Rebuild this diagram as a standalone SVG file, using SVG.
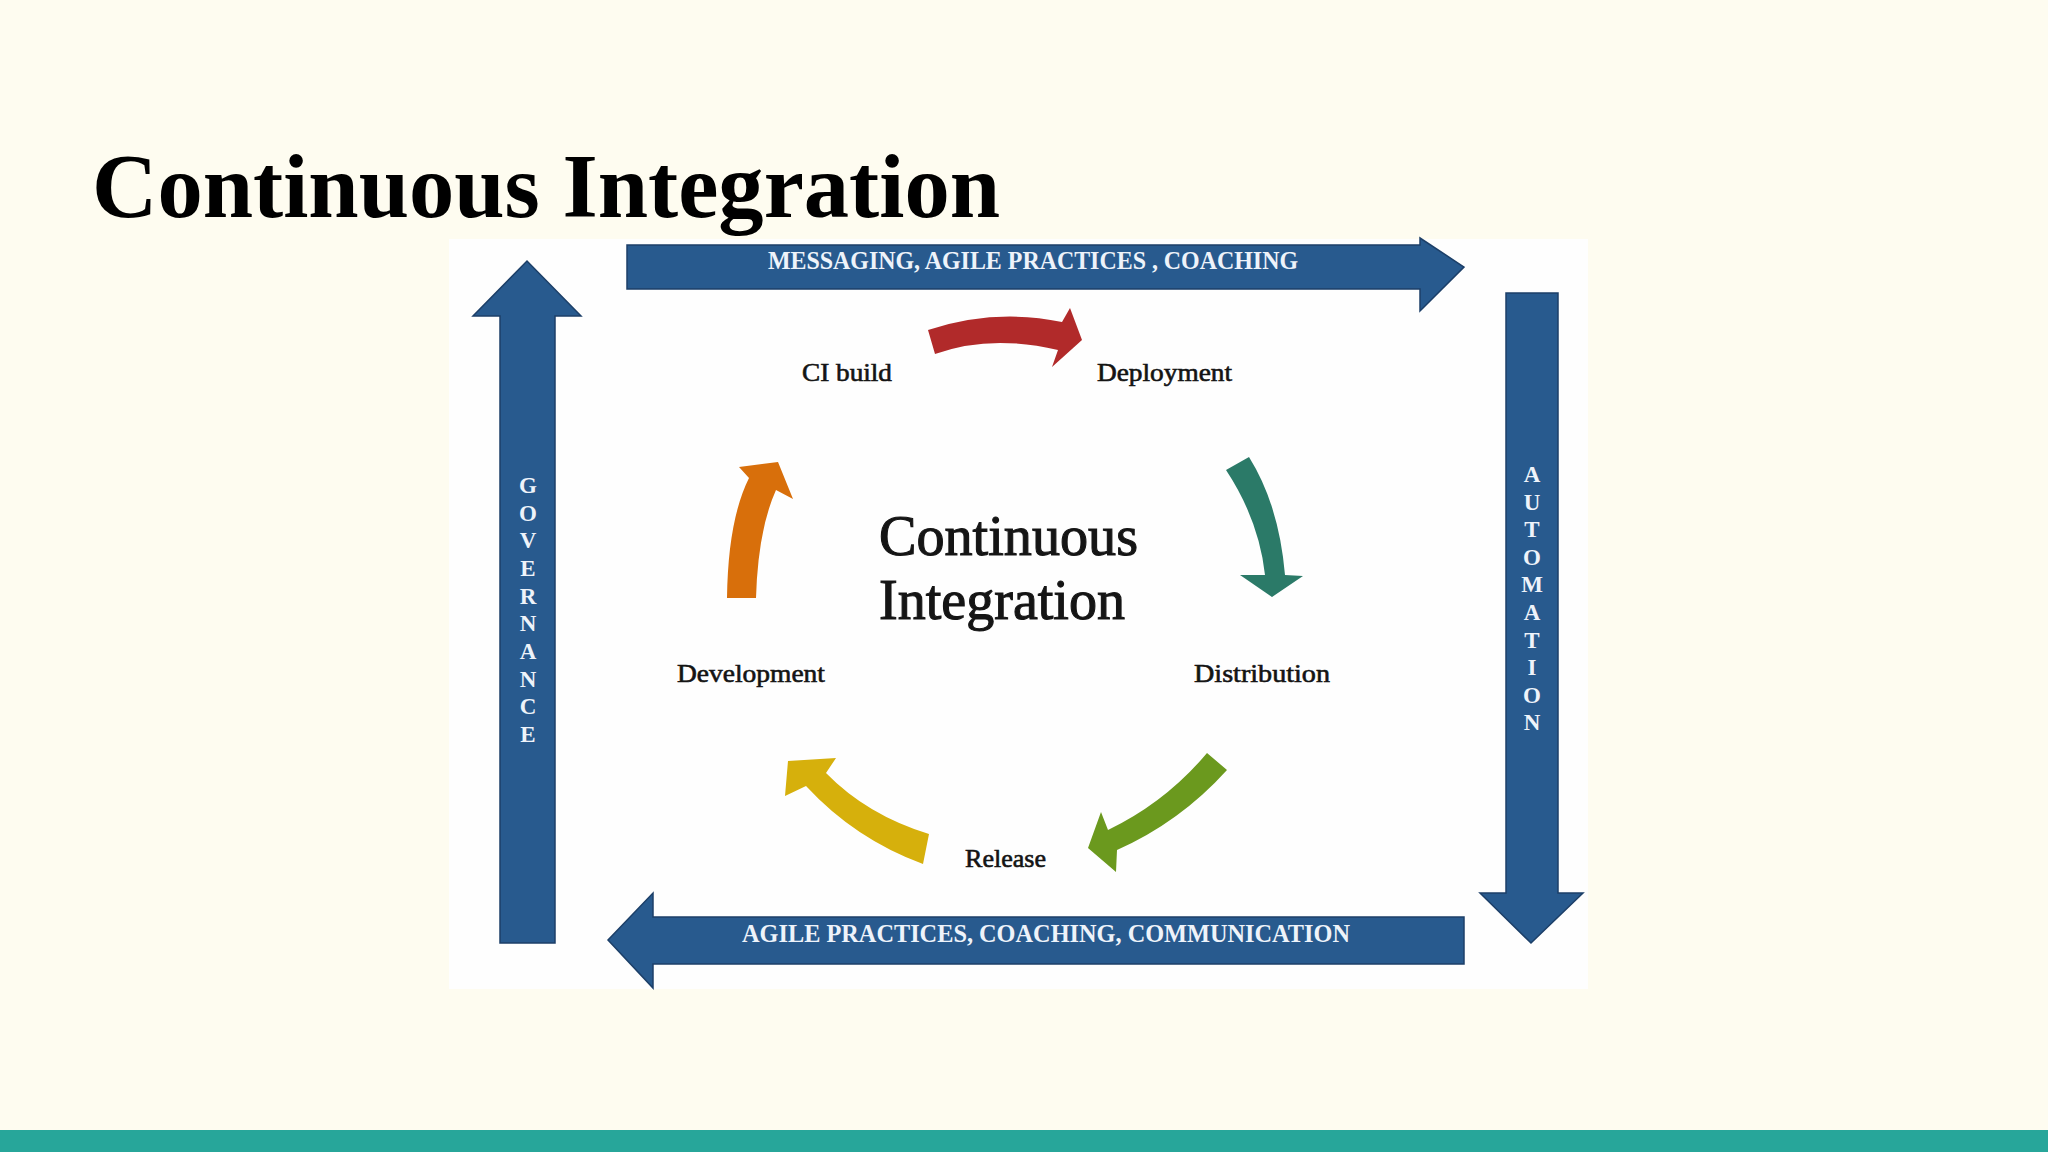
<svg xmlns="http://www.w3.org/2000/svg" width="2048" height="1152" viewBox="0 0 2048 1152">
<style>
.blue{fill:#285a8e;stroke:#1c3f68;stroke-width:1.5}
.bar{font-family:"Liberation Serif",serif;font-weight:bold;font-size:26px;fill:#eef3fa}
.vert{font-family:"Liberation Serif",serif;font-weight:bold;font-size:23px;fill:#eef3fa;text-anchor:middle}
.lbl{font-family:"Liberation Serif",serif;font-size:25px;fill:#141414;stroke:#141414;stroke-width:0.6}
.ctr{font-family:"Liberation Serif",serif;font-size:56px;fill:#151515;stroke:#151515;stroke-width:1.1}
.title{font-family:"Liberation Serif",serif;font-weight:bold;font-size:90px;fill:#000}
</style>
<rect width="2048" height="1152" fill="#fefcf0"/>
<rect x="0" y="1130" width="2048" height="22" fill="#27a69a"/>
<g id="title"><text class="title" x="92" y="217" textLength="908" lengthAdjust="spacingAndGlyphs">Continuous Integration</text></g>
<rect id="canvas" x="449" y="239" width="1139" height="750" fill="#fefefe"/>
<g id="top-arrow">
<path class="blue" d="M627,245 H1420 V238 L1464,267 L1420,311 V289 H627 Z"/>
<text class="bar" x="768" y="269" textLength="530" lengthAdjust="spacingAndGlyphs">MESSAGING, AGILE PRACTICES , COACHING</text>
</g>
<g id="right-arrow">
<path class="blue" d="M1506,293 H1558 V893 H1583 L1531,943 L1480,893 H1506 Z"/>
<text class="vert"><tspan x="1532" y="482">A</tspan><tspan x="1532" y="510">U</tspan><tspan x="1532" y="537">T</tspan><tspan x="1532" y="565">O</tspan><tspan x="1532" y="592">M</tspan><tspan x="1532" y="620">A</tspan><tspan x="1532" y="648">T</tspan><tspan x="1532" y="675">I</tspan><tspan x="1532" y="703">O</tspan><tspan x="1532" y="730">N</tspan></text>
</g>
<g id="bottom-arrow">
<path class="blue" d="M1464,917 V964 H653 V988 L608,940 L653,893 V917 Z"/>
<text class="bar" x="742" y="942" textLength="608" lengthAdjust="spacingAndGlyphs">AGILE PRACTICES, COACHING, COMMUNICATION</text>
</g>
<g id="left-arrow">
<path class="blue" d="M500,943 V316 H473 L527,261 L581,316 H555 V943 Z"/>
<text class="vert"><tspan x="528" y="493">G</tspan><tspan x="528" y="521">O</tspan><tspan x="528" y="548">V</tspan><tspan x="528" y="576">E</tspan><tspan x="528" y="604">R</tspan><tspan x="528" y="631">N</tspan><tspan x="528" y="659">A</tspan><tspan x="528" y="687">N</tspan><tspan x="528" y="714">C</tspan><tspan x="528" y="742">E</tspan></text>
</g>
<g id="center"><text class="ctr" x="879" y="555" textLength="259" lengthAdjust="spacingAndGlyphs">Continuous</text><text class="ctr" x="879" y="619" textLength="246" lengthAdjust="spacingAndGlyphs">Integration</text></g>
<g id="ci-build"><text class="lbl" x="802" y="381" textLength="90" lengthAdjust="spacingAndGlyphs">CI build</text></g>
<g id="deployment"><text class="lbl" x="1097" y="381" textLength="135" lengthAdjust="spacingAndGlyphs">Deployment</text></g>
<g id="distribution"><text class="lbl" x="1194" y="682" textLength="136" lengthAdjust="spacingAndGlyphs">Distribution</text></g>
<g id="release"><text class="lbl" x="965" y="867" textLength="81" lengthAdjust="spacingAndGlyphs">Release</text></g>
<g id="development"><text class="lbl" x="677" y="682" textLength="148" lengthAdjust="spacingAndGlyphs">Development</text></g>
<g id="connectors">
<path fill="#b12a2a" d="M928,330 Q995,308 1062,322 L1070,308 L1082,340 L1052,367 L1058,350 Q990,334 935,354 Z"/>
<path fill="#2b7a68" d="M1226,470 L1249,457 Q1279,505 1285,575 L1303,576 L1272,597 L1240,575 L1265,575 Q1259,520 1226,470 Z"/>
<path fill="#6b991e" d="M1207,753 L1227,770 Q1180,822 1117,850 L1116,872 L1088,848 L1101,812 L1108,830 Q1166,802 1207,753 Z"/>
<path fill="#d6b00c" d="M929,834 Q867,815 826,773 L836,758 L788,761 L785,796 L806,786 Q855,839 923,864 Z"/>
<path fill="#d86f0b" d="M727,598 Q728,520 749,478 L739,467 L778,462 L793,499 L776,490 Q758,530 756,598 Z"/>
</g>
</svg>
